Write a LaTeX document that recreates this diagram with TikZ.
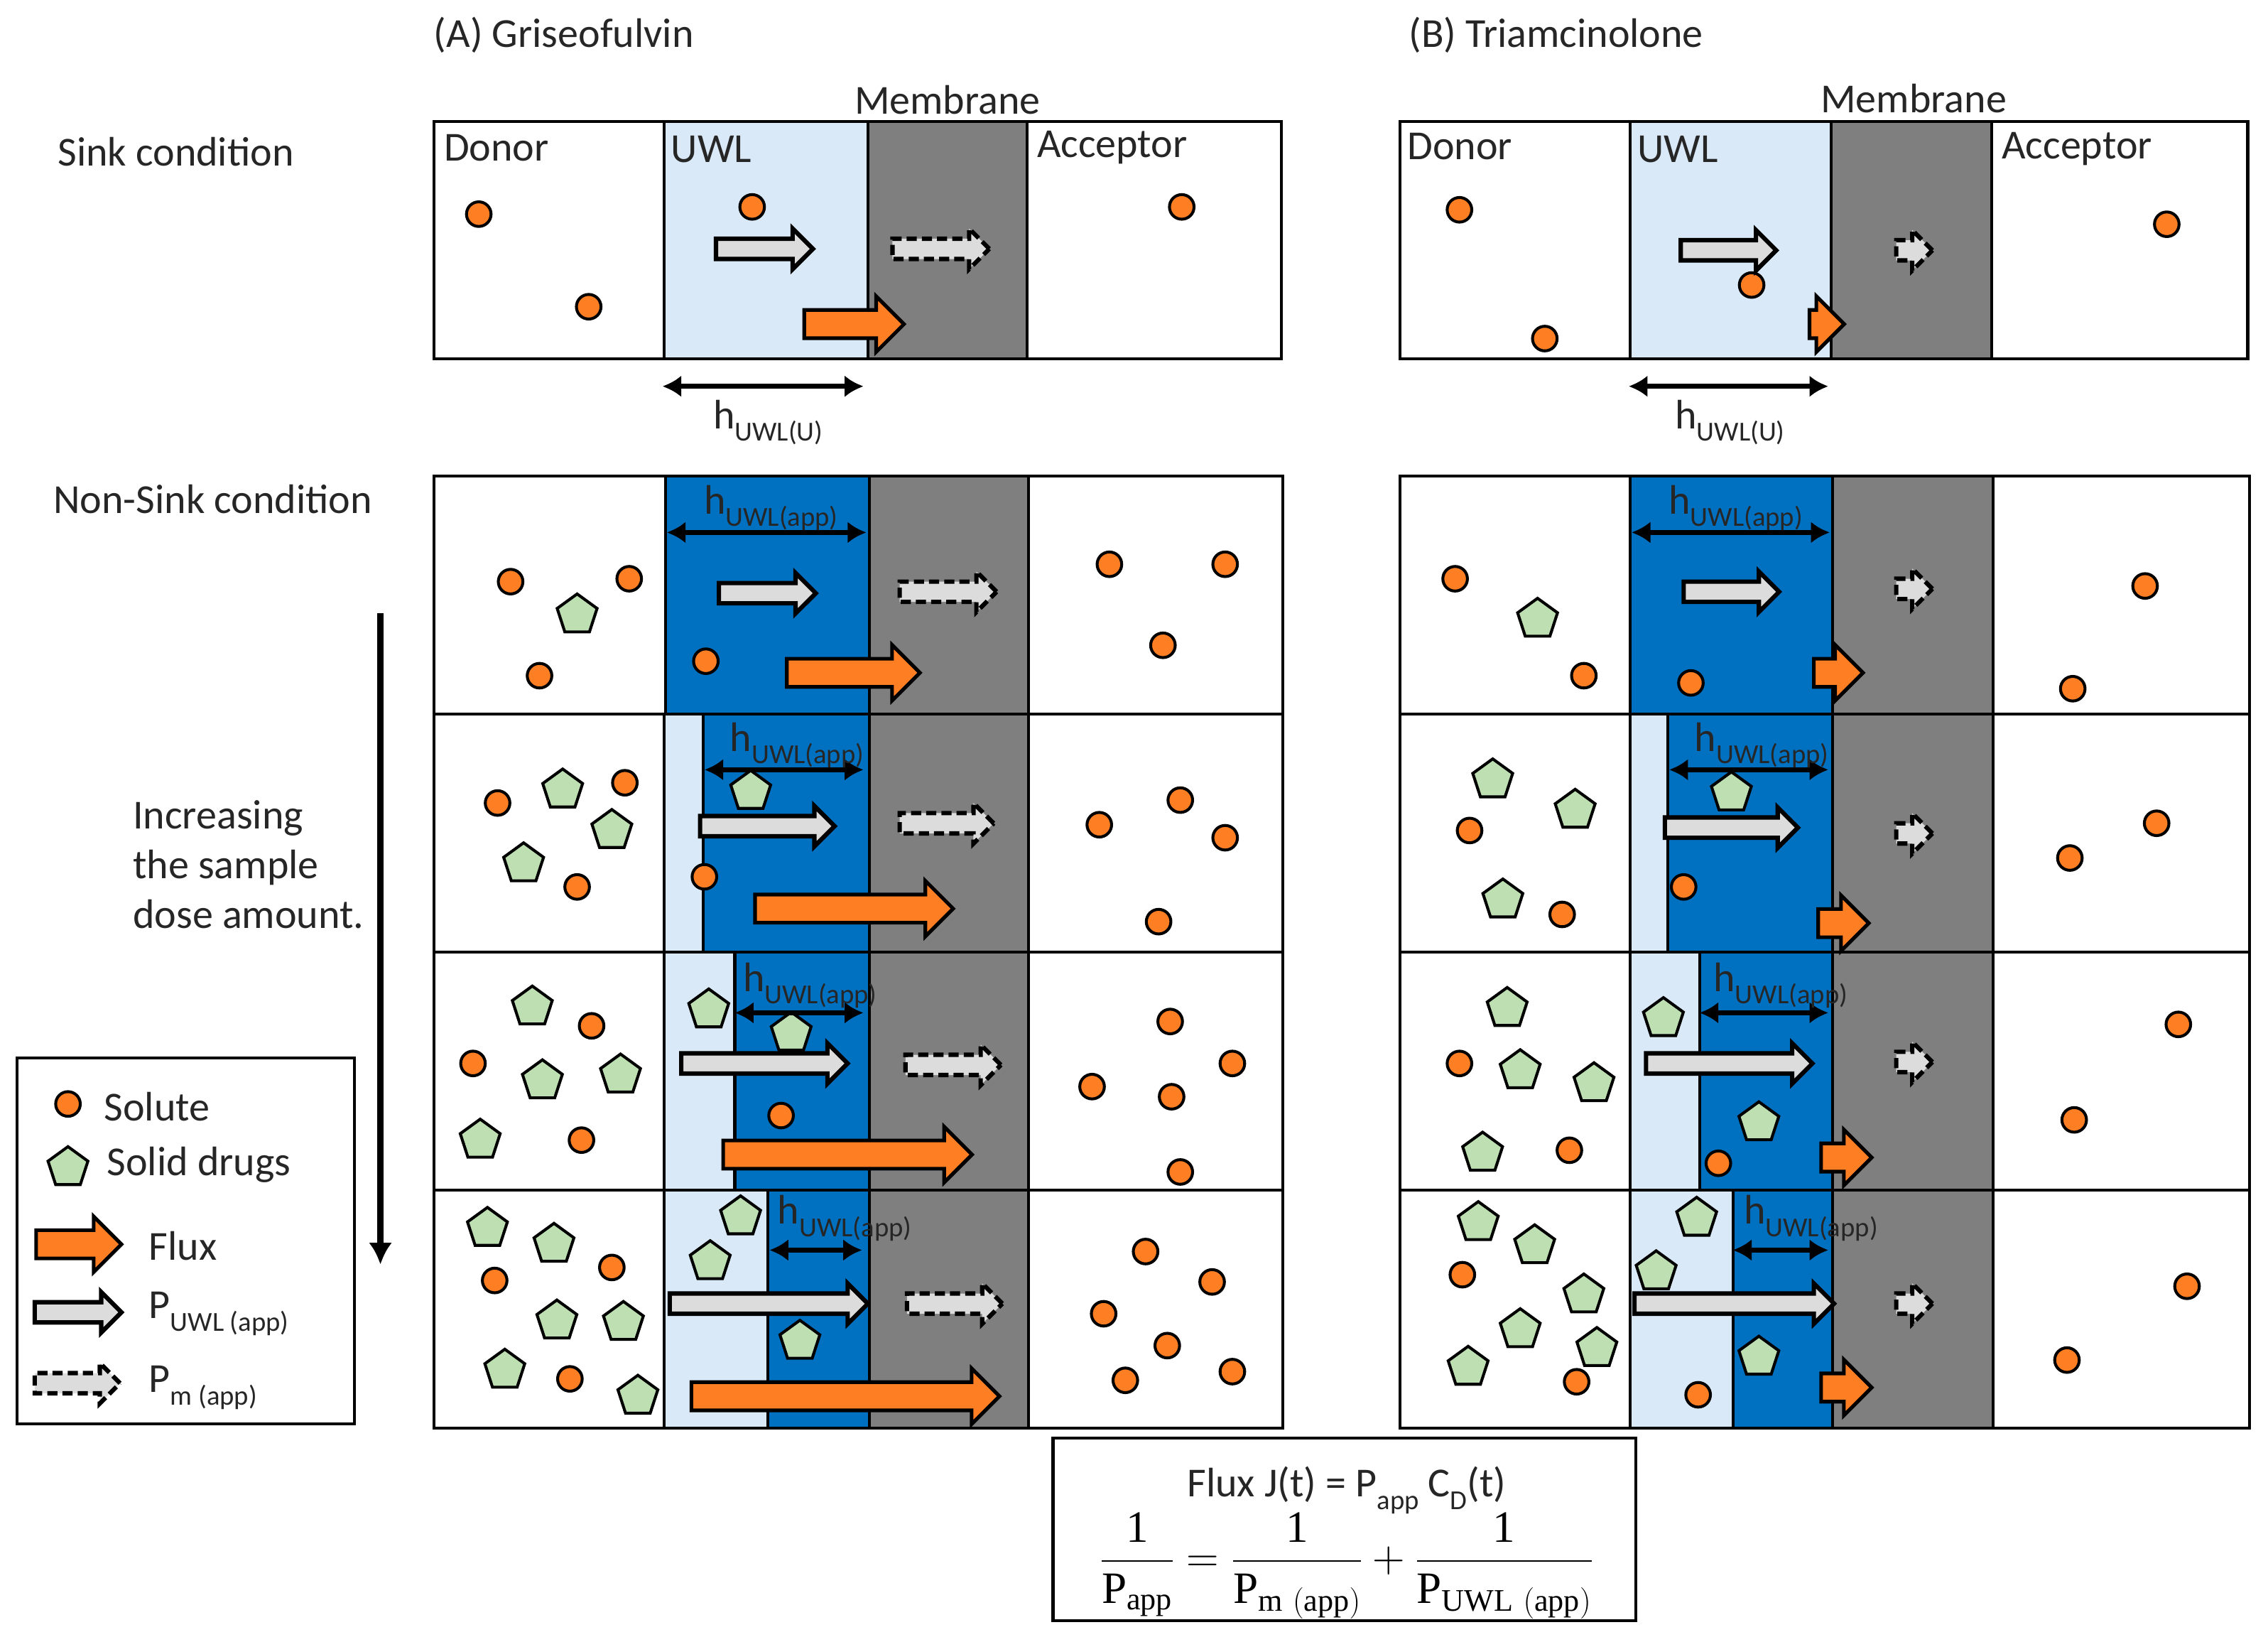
\RequirePackage{fix-cm}
\documentclass[tikz,border=0pt]{standalone}
\usepackage{fontspec}
\usepackage{amsmath}
\setmainfont{Carlito}
\setmathrm{Liberation Serif}
\usetikzlibrary{arrows.meta,shapes.geometric,shapes.arrows}
\definecolor{soluteorange}{HTML}{FD7E23}
\definecolor{drugreen}{HTML}{BEDFB2}
\definecolor{lightuwl}{HTML}{DAE9F7}
\definecolor{darkuwl}{HTML}{0070C0}
\definecolor{membranegray}{HTML}{7F7F7F}
\definecolor{arrowgray}{HTML}{DCDCDC}
\newcommand{\lowtxt}[1]{\raisebox{-0.3em}{\fontsize{19}{21}\selectfont #1}}
\begin{document}
\begin{tikzpicture}[
    x=1pt,y=-1pt,
    every node/.style={inner sep=0pt,outer sep=0pt},
    label/.style={font=\fontsize{28.5}{34.5}\selectfont,text=black!85,anchor=west},
    hlabel/.style={font=\fontsize{28.5}{30}\selectfont,text=black!85},
    solute/.style={circle,draw,line width=2pt,fill=soluteorange,minimum size=17pt},
    drug/.style={regular polygon,regular polygon sides=5,draw,line width=2pt,fill=drugreen,minimum size=29pt},
    wall/.style={draw=black,line width=2pt},
    flux/.style={single arrow,draw,line width=2.5pt,fill=soluteorange,anchor=tail,single arrow head indent=0pt,inner ysep=8.5pt,minimum width=36pt,single arrow head extend=9.5pt},
    puwl/.style={single arrow,draw,line width=3pt,fill=arrowgray,anchor=tail,single arrow head indent=0pt,inner ysep=5.5pt,minimum width=25pt,single arrow head extend=7pt},
    pmem/.style={puwl,dash pattern=on 7pt off 3.5pt},
    span/.style={{Latex[length=13pt,width=15pt]}-{Latex[length=13pt,width=15pt]},line width=3.5pt}
]
\useasboundingbox (0,0) rectangle (1568,1134.4);
% panels, x offsets of A and B
\foreach \p/\xa/\xb/\xc/\xd/\xe in {A/300/459/600/710/886,B/968/1127/1266/1377/1554}{
    % sink row
    \draw[wall,fill=lightuwl] (\xb,84) rectangle (\xc,248);
    \draw[wall,fill=membranegray] (\xc,84) rectangle (\xd,248);
    \draw[wall] (\xa,84) rectangle (\xe,248);
    % non-sink rows
    \foreach \ya/\yb in {329/493.5,493.5/658,658/822.5,822.5/987}{
        \draw[wall,fill=membranegray] (\xc+1,\ya) rectangle (\xd+1,\yb);
        \draw[wall] (\xa,\ya) rectangle (\xe+1,\yb);
    }
}
\foreach \xa/\xb/\xc/\ya/\yb in {
    460/460/601/329/493.5, 459/486/601/493.5/658, 459/508/601/658/822.5, 459/531/601/822.5/987,
    1127/1127/1267/329/493.5, 1127/1153/1267/493.5/658, 1127/1175/1267/658/822.5, 1127/1198/1267/822.5/987}{
    \draw[wall,fill=lightuwl] (\xa,\ya) rectangle (\xb,\yb);
    \draw[wall,fill=darkuwl] (\xb,\ya) rectangle (\xc,\yb);
}
% titles
\node[label] (titleA) at (300,24) {(A) Griseofulvin};
\node[label] (titleB) at (974,24) {(B) Triamcinolone};
\node[label,anchor=center] (membA) at (655,69) {Membrane};
\node[label,anchor=center] (membB) at (1323,68) {Membrane};
\node[label] (sink) at (40,105) {Sink condition};
\node[label] (nonsink) at (37,345) {Non-Sink condition};
\node[label] (donorA) at (307,102) {Donor};
\node[label] (uwlA) at (464,103) {UWL};
\node[label] (accA) at (717,102) {Acceptor};
\node[label] (donorB) at (973,101) {Donor};
\node[label] (uwlB) at (1132,103) {UWL};
\node[label] (accB) at (1384,103) {Acceptor};
\node[label,align=left,anchor=north west] (dose) at (92,553) {Increasing\\the sample\\dose amount.};
% solutes
\foreach \x/\y [count=\n] in {
    331/148,407/212,520/143,817/143,1009/145,1068/234,1211/197,1498/155,
    353/402,435/400,373/467,488/457,767/390,847/390,804/446,
    344/555,432/541,399/613,487/606,760/570,816/553,847/579,801/637,
    409/709,327/735,402/788,540/771,809/706,852/735,755/751,810/758,816/810,
    423/876,342/885,394/953,792/865,838/886,763/908,807/930,852/948,778/954,
    1006/400,1095/467,1169/472,1483/405,1433/476,
    1016/574,1080/632,1164/613,1491/569,1431/593,
    1009/735,1085/795,1188/804,1506/708,1434/774,
    1011/881,1090/955,1174/964,1512/889,1429/940}{
    \node[solute] (sol\n) at (\x,\y) {};
}
% solid drugs
\foreach \x/\y [count=\n] in {
    399/425,389/546,423/574,362/597,519/547,
    368/696,375/747,429/743,332/788,490/698,547/714,
    337/849,383/860,385/913,431/914,349/947,441/965,512/841,491/872,553/927,
    1063/428,1032/539,1089/560,1039/622,1197/548,
    1042/697,1051/740,1102/749,1025/797,1150/704,1216/776,
    1022/845,1061/861,1095/895,1051/919,1104/932,1015/945,1173/842,1145/879,1216/938}{
    \node[drug] (drg\n) at (\x,\y) {};
}
% P arrows through the UWL
\foreach \x/\xe/\y [count=\n] in {
    495/562/172,1162/1228/173,497/564/410,484/577/571,471/586/735,463/600/901,
    1164/1230/409,1151/1243/572,1138/1253/735,1130/1268/901}{
    \node[puwl,minimum height=(\xe-\x)*1pt] (pu\n) at (\x,\y) {};
}
% P arrows in the membrane
\foreach \x/\xe/\y [count=\n] in {
    617/684/172,622/689/409,622/687/569,626/692/736,627/693/901,
    1311/1336/173,1311/1336/407,1311/1336/576,1311/1336/734,1311/1336/901}{
    \node[pmem,minimum height=(\xe-\x)*1pt] (pm\n) at (\x,\y) {};
}
% flux
\foreach \x/\xe/\y [count=\n] in {
    556/625/224,1251/1275/224,544/636/465,522/659/628,500/672/798,478/691/965,
    1254/1288/465,1257/1292/638,1259/1294/800,1259/1294/959}{
    \node[flux,minimum height=(\xe-\x)*1pt] (fx\n) at (\x,\y) {};
}
% UWL thickness
\foreach \x/\xe/\y [count=\n] in {
    458/597/267,1126/1264/267,461/599/368,487/597/532,508/597/700,532/596/864,
    1128/1265/368,1154/1264/532,1175/1264/700,1198/1264/864}{
    \coordinate (hl\n) at (\x,\y);
    \coordinate (hr\n) at (\xe,\y);
    \draw[span] (hl\n) -- (hr\n);
}
\foreach \x/\y/\s [count=\n] in {
    531/292/UWL(U),1196/292/UWL(U),533/351/UWL(app),551/515/UWL(app),560/681/UWL(app),584/842/UWL(app),
    1200/351/UWL(app),1218/515/UWL(app),1231/681/UWL(app),1252/842/UWL(app)}{
    \node[hlabel] (h\n) at (\x,\y) {h\lowtxt{\s}};
}
% dose arrow
\coordinate (doseTop) at (263,424);
\coordinate (doseEnd) at (263,874);
\draw[-{Latex[length=15pt,width=16pt]},line width=4pt] (doseTop) -- (doseEnd);
% legend
\node[draw,line width=2pt,minimum width=233pt,minimum height=253pt,anchor=north west] (legend) at (12,731) {};
\node[solute] (legsol) at (47,763) {};
\node[label] (legsolt) at (72,765) {Solute};
\node[drug] (legdrg) at (47,807) {};
\node[label] (legdrgt) at (74,805) {Solid drugs};
\node[flux,minimum height=59pt] (legfx) at (25,860) {};
\node[label] (legfxt) at (103,861) {Flux};
\node[puwl,minimum height=60pt] (legpu) at (24,907) {};
\node[label] (legput) at (103,908) {P\lowtxt{UWL (app)}};
\node[pmem,minimum height=59pt] (legpm) at (24,956) {};
\node[label] (legpmt) at (103,959) {P\lowtxt{m (app)}};
% equations
\node[draw,line width=2pt,minimum width=403pt,minimum height=126pt,anchor=north west] (eqbox) at (728,994) {};
\node[label,anchor=center] (eqflux) at (931,1030) {Flux J(t) = P\lowtxt{app} C\lowtxt{D}(t)};
\node[font=\fontsize{31}{36}\selectfont] (eqfrac) at (931,1082) {$\dfrac{\mathrm{1}}{\mathrm{P}_{\mathrm{app}}}=\dfrac{\mathrm{1}}{\mathrm{P}_{\mathrm{m\ (app)}}}+\dfrac{\mathrm{1}}{\mathrm{P}_{\mathrm{UWL\ (app)}}}$};
\end{tikzpicture}
\end{document}
